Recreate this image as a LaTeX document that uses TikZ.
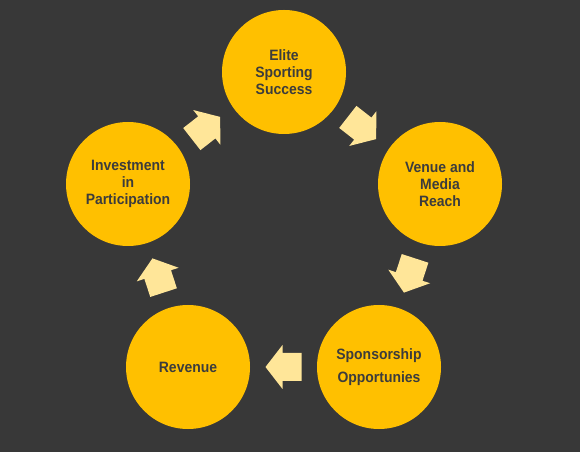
\documentclass[tikz,border=0pt]{standalone}
\usepackage{fontspec}
\newfontfamily\lblfont{Liberation Sans}[FakeStretch=0.93]
\usetikzlibrary{calc}
\definecolor{bg}{HTML}{383838}
\definecolor{disc}{HTML}{FFC000}
\definecolor{arrowfill}{HTML}{FFE699}
\definecolor{txt}{HTML}{3C3C3C}
\tikzset{
  stage/.style={circle, fill=disc, minimum size=124pt, inner sep=0pt,
    align=center, text=txt, font=\lblfont\bfseries\fontsize{15}{17}\selectfont},
  blockarrow/.pic={
    \fill[arrowfill] (-18,-14) -- (1,-14) -- (1,-22) -- (18,0) -- (1,22) -- (1,14) -- (-18,14) -- cycle;
  }
}
\begin{document}
\begin{tikzpicture}[x=1pt,y=1pt]
  \fill[bg] (0,0) rectangle (580,452);
  \useasboundingbox (0,0) rectangle (580,452);
  \node[stage] (elite) at (284,380) {Elite\\Sporting\\Success};
  \node[stage] (venue) at (440,268) {Venue and\\Media\\Reach};
  \node[stage] (spons) at (379,85) {Sponsorship\\[6pt]Opportunies};
  \node[stage] (rev) at (188,85) {Revenue};
  \node[stage] (inv) at (128,268) {Investment\\in\\Participation};
  \pic[rotate=38] at ($(inv)!0.5!(elite)$) {blockarrow};
  \pic[rotate=-38] at ($(elite)!0.5!(venue)$) {blockarrow};
  \pic[rotate=-108] at ($(venue)!0.5!(spons)$) {blockarrow};
  \pic[rotate=180] at ($(spons)!0.5!(rev)$) {blockarrow};
  \pic[rotate=108] at ($(rev)!0.5!(inv)$) {blockarrow};
\end{tikzpicture}
\end{document}
